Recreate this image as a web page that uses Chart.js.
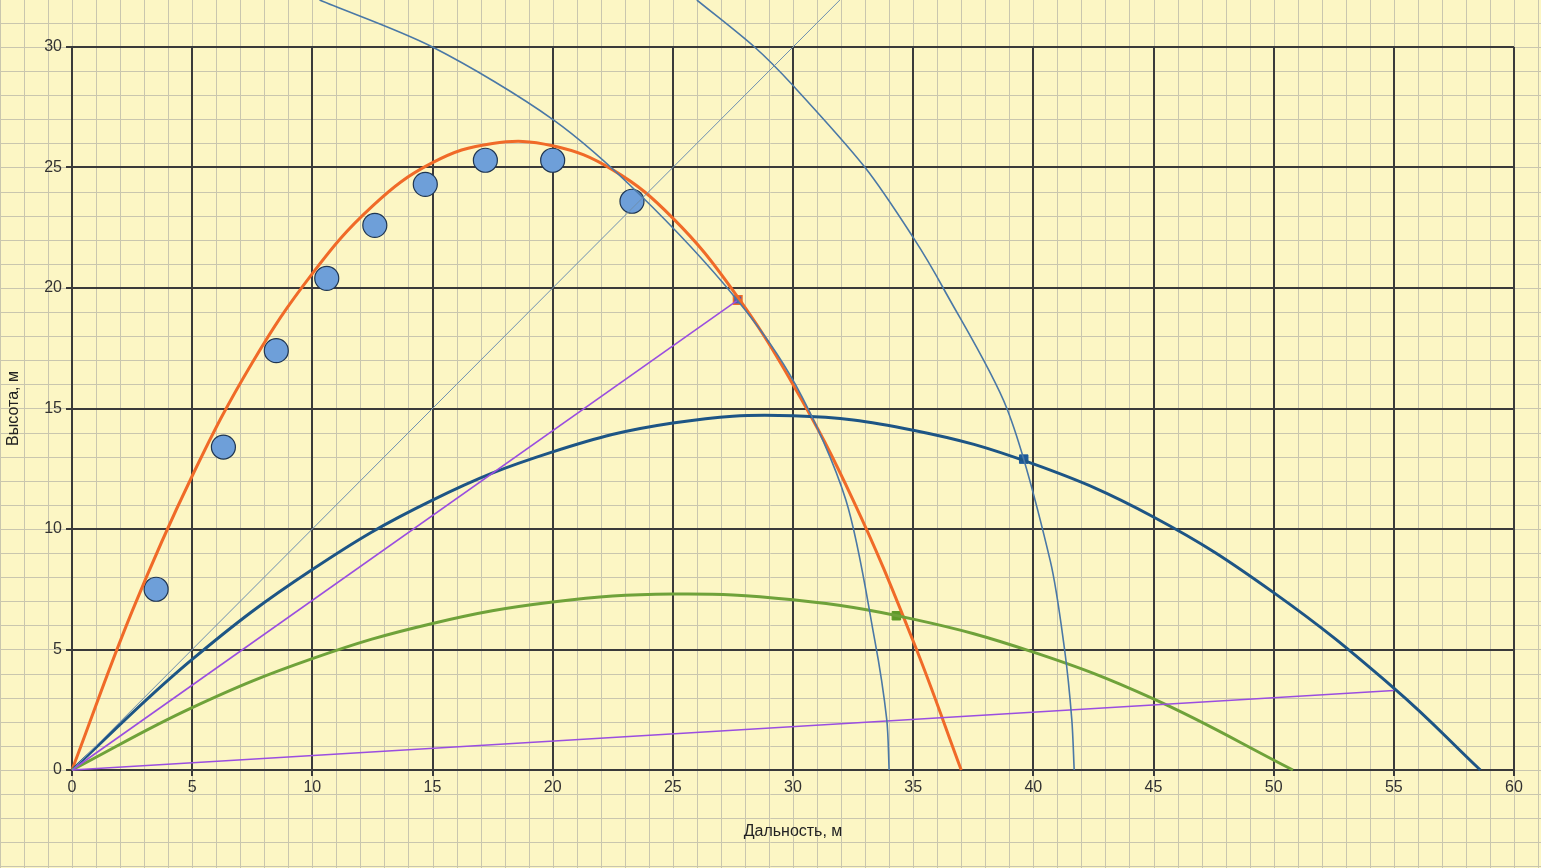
<!DOCTYPE html>
<html lang="ru">
<head>
  <meta charset="UTF-8" />
  <title>Траектории</title>
  <script src="https://cdn.jsdelivr.net/npm/chart.js"></script>
  <style>
    html, body { margin: 0; padding: 0; background: #fcf6c4; }
    #wrap { width: 1541px; height: 868px; }
  </style>
</head>
<body>
  <div id="wrap"><canvas id="grafico"></canvas></div>
  <script>
    // траектории (x, м / y, м)
    const orangeX = [0, 2.5, 5, 7.5, 10, 12.5, 15, 17.5, 20, 22.5, 25, 27.5, 30, 32.5, 35, 37];
    const orangeY = [0, 6.58, 12.2, 16.9, 20.6, 23.4, 25.2, 26.0, 25.9, 24.9, 22.9, 19.9, 16.0, 11.2, 5.35, 0];
    const blueX = [0, 5, 10, 15, 20, 25, 30, 35, 40, 45, 50, 55, 58.6];
    const blueY = [0, 4.59, 8.32, 11.2, 13.2, 14.4, 14.7, 14.1, 12.7, 10.5, 7.36, 3.4, 0];
    const greenX = [0, 5, 10, 15, 20, 25, 30, 35, 40, 45, 50.8];
    const greenY = [0, 2.59, 4.62, 6.08, 6.97, 7.3, 7.06, 6.26, 4.89, 2.95, 0];
    const arc1X = [10.3, 15.0, 20.0, 23.6, 27.6, 30.1, 32.2, 33.4, 33.9, 34.0];
    const arc1Y = [31.95, 30, 27.0, 23.9, 19.6, 16.0, 11.2, 5.4, 2.1, 0];
    const arc2X = [26.0, 28.4, 30.0, 33.0, 35.0, 36.25, 38.9, 40.7, 41.3, 41.6, 41.7];
    const arc2Y = [31.95, 30, 28.4, 25.0, 22.1, 20.0, 15.0, 8.7, 5.0, 2.1, 0];
    const diagX = [0, 32];
    const diagY = [0, 32];
    const purple1X = [0, 27.7];
    const purple1Y = [0, 19.5];
    const purple2X = [0, 55];
    const purple2Y = [0, 3.3];
    // измерения
    const dotsX = [3.5, 6.3, 8.5, 10.6, 12.6, 14.7, 17.2, 20.0, 23.3];
    const dotsY = [7.5, 13.4, 17.4, 20.4, 22.6, 24.3, 25.3, 25.3, 23.6];

    const pts = (xs, ys) => xs.map((x, i) => ({ x: x, y: ys[i] }));

    function linia(xs, ys, color, width, tension) {
      return {
        type: 'line', data: pts(xs, ys), borderColor: color, borderWidth: width,
        pointRadius: 0, tension: tension, fill: false, clip: false
      };
    }

    // миллиметровка на весь холст
    const fundo = {
      id: 'fundo',
      beforeDraw(chart) {
        const c = chart.ctx, sx = chart.scales.x, sy = chart.scales.y;
        c.save();
        c.fillStyle = '#fcf6c4';
        c.fillRect(0, 0, chart.width, chart.height);
        c.strokeStyle = '#c9c6ae';
        c.lineWidth = 1;
        const ux = sx.getPixelForValue(1) - sx.getPixelForValue(0);
        const uy = sy.getPixelForValue(0) - sy.getPixelForValue(1);
        const x0 = sx.getPixelForValue(0), y0 = sy.getPixelForValue(0);
        c.beginPath();
        for (let k = -5; x0 + k * ux < chart.width + 1; k++) {
          const p = Math.round(x0 + k * ux) + 0.5;
          c.moveTo(p, 0); c.lineTo(p, chart.height);
        }
        for (let k = -6; y0 - k * uy > -1; k++) {
          const p = Math.round(y0 - k * uy) + 0.5;
          c.moveTo(0, p); c.lineTo(chart.width, p);
        }
        c.stroke();
        c.restore();
      }
    };

    new Chart(document.getElementById('grafico'), {
      type: 'scatter',
      data: {
        datasets: [
          linia(diagX, diagY, '#6d8fb0', 1, 0),
          linia(arc1X, arc1Y, '#4a78a6', 1.6, 0.3),
          linia(arc2X, arc2Y, '#4a78a6', 1.6, 0.3),
          linia(purple1X, purple1Y, '#9a4ee0', 1.6, 0),
          linia(purple2X, purple2Y, '#9a4ee0', 1.6, 0),
          linia(greenX, greenY, '#6fa23a', 3, 0.4),
          linia(blueX, blueY, '#1d5585', 3, 0.4),
          linia(orangeX, orangeY, '#f06a28', 3, 0.4),
          {
            data: pts(dotsX, dotsY), pointRadius: 12, backgroundColor: '#6e9fd9',
            borderColor: '#1f3550', borderWidth: 1.2
          },
          { data: [{ x: 0, y: 0 }], pointStyle: 'rect', pointRadius: 6, backgroundColor: '#3f86d0', borderColor: '#2a5f9a' },
          { data: [{ x: 27.7, y: 19.5 }], pointStyle: 'rect', pointRadius: 6, backgroundColor: '#4a5ab0', borderColor: '#f06a28', borderWidth: 1.5 },
          { data: [{ x: 39.6, y: 12.9 }], pointStyle: 'rect', pointRadius: 6, backgroundColor: '#1d5a9a', borderColor: '#1d5a9a' },
          { data: [{ x: 34.3, y: 6.4 }], pointStyle: 'rect', pointRadius: 6, backgroundColor: '#5f9a28', borderColor: '#5f9a28' }
        ]
      },
      options: {
        responsive: true,
        maintainAspectRatio: false,
        animation: false,
        layout: { padding: { top: 47, right: 27, left: 0, bottom: 23 } },
        plugins: { legend: { display: false }, tooltip: { enabled: false } },
        scales: {
          x: {
            type: 'linear', min: 0, max: 60,
            afterFit(s) { s.height = 75; },
            ticks: { stepSize: 5, maxRotation: 0, color: '#333', font: { family: 'Liberation Sans', size: 16 }, padding: 2 },
            grid: { color: '#3a3a3a', lineWidth: 2, tickLength: 6 },
            border: { display: false },
            title: { display: true, text: 'Дальность, м', color: '#222', font: { family: 'Liberation Sans', size: 16 }, padding: { top: 12 } }
          },
          y: {
            min: 0, max: 30,
            afterFit(s) { s.width = 72; },
            ticks: { stepSize: 5, color: '#333', font: { family: 'Liberation Sans', size: 16 }, padding: 4 },
            grid: { color: '#3a3a3a', lineWidth: 2, tickLength: 6 },
            border: { display: false },
            title: { display: true, text: 'Высота, м', color: '#222', font: { family: 'Liberation Sans', size: 16 }, padding: { bottom: 0 } }
          }
        }
      },
      plugins: [fundo]
    });
  </script>
</body>
</html>
